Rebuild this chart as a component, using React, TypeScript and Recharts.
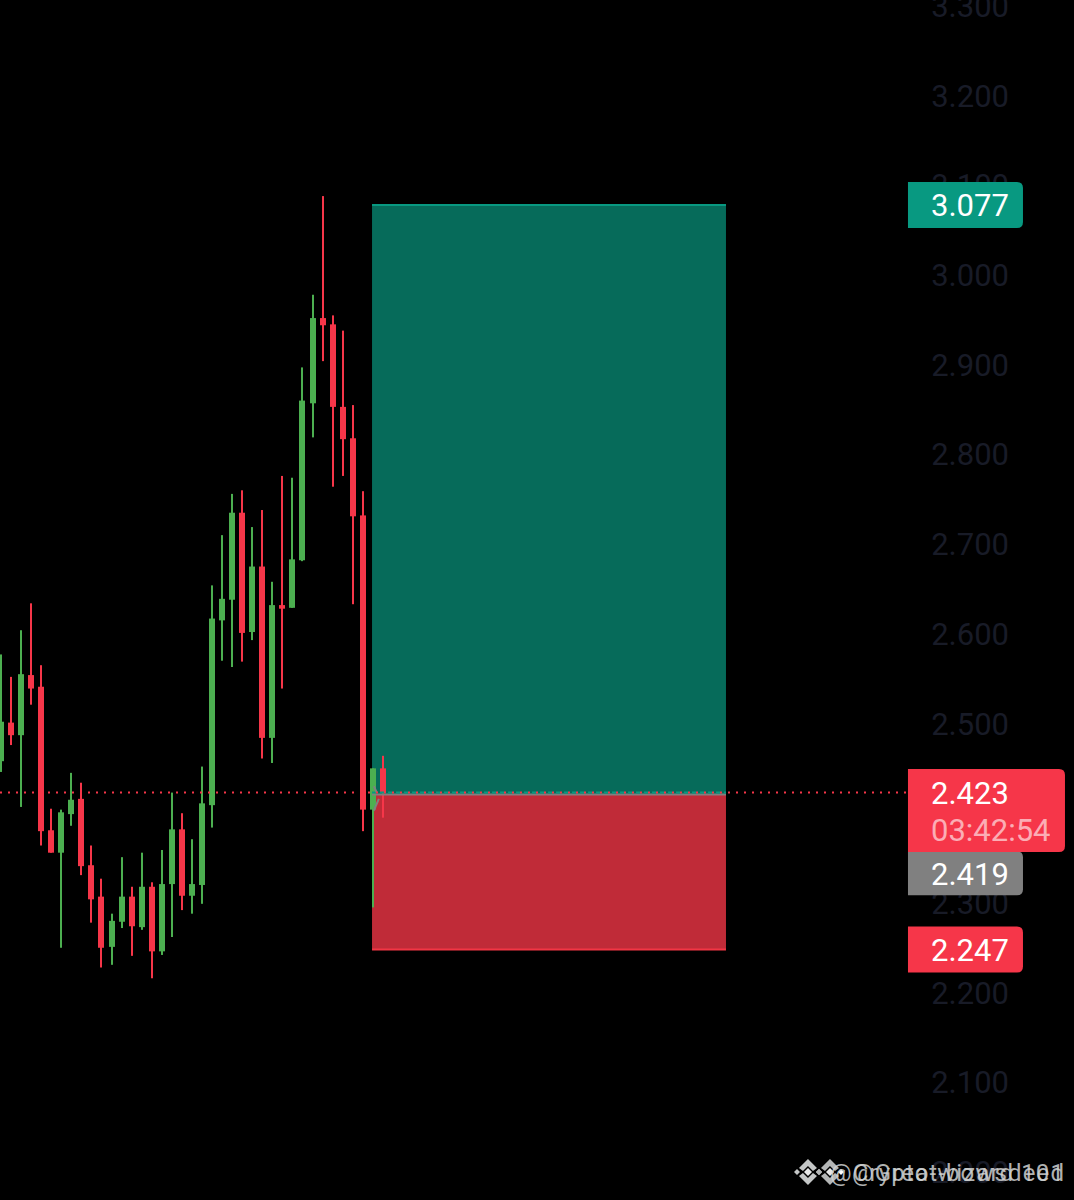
import { Bar, ComposedChart, ReferenceArea, ReferenceDot, ReferenceLine, XAxis, YAxis } from 'recharts';

const opens = [2.458, 2.501, 2.487, 2.554, 2.541, 2.381, 2.356, 2.399, 2.416, 2.342, 2.307, 2.251, 2.279, 2.307, 2.273, 2.318, 2.246, 2.321, 2.382, 2.308, 2.32, 2.409, 2.615, 2.638, 2.735, 2.602, 2.675, 2.484, 2.632, 2.629, 2.682, 2.857, 2.952, 2.945, 2.853, 2.818, 2.732, 2.404, 2.45];
const closes = [2.502, 2.487, 2.555, 2.539, 2.38, 2.356, 2.401, 2.415, 2.341, 2.304, 2.25, 2.28, 2.307, 2.274, 2.318, 2.246, 2.321, 2.382, 2.308, 2.321, 2.411, 2.617, 2.639, 2.735, 2.601, 2.675, 2.484, 2.632, 2.628, 2.683, 2.86, 2.952, 2.944, 2.853, 2.817, 2.731, 2.404, 2.45, 2.423];
const highs = [2.577, 2.552, 2.604, 2.634, 2.565, 2.405, 2.404, 2.445, 2.434, 2.364, 2.327, 2.288, 2.351, 2.318, 2.356, 2.323, 2.359, 2.423, 2.4, 2.371, 2.452, 2.654, 2.71, 2.756, 2.76, 2.719, 2.738, 2.658, 2.776, 2.774, 2.897, 2.978, 3.088, 2.955, 2.938, 2.855, 2.759, 2.45, 2.464];
const lows = [2.446, 2.476, 2.407, 2.521, 2.364, 2.356, 2.25, 2.386, 2.331, 2.278, 2.228, 2.231, 2.272, 2.241, 2.27, 2.216, 2.242, 2.262, 2.292, 2.288, 2.299, 2.384, 2.57, 2.563, 2.569, 2.593, 2.461, 2.456, 2.539, 2.629, 2.681, 2.819, 2.904, 2.764, 2.776, 2.633, 2.38, 2.295, 2.395];
const priceTicks = [2.0, 2.1, 2.2, 2.3, 2.4, 2.5, 2.6, 2.7, 2.8, 2.9, 3.0, 3.1, 3.2, 3.3];

const lastPrice = 2.423;
const entryPrice = 2.419;
const targetPrice = 3.077;
const stopPrice = 2.247;
const countdown = '03:42:54';

const UP = '#4caf50';
const DOWN = '#f63649';
const FONT = 'Roboto, sans-serif';
const NUDGE = 0.001; // box edges sit about a pixel above their price in the screenshot
const BOX_LEFT = 36.92;
const BOX_RIGHT = 72.14;
const AXIS_LEFT = -0.0995;
const AXIS_RIGHT = 106.77;
const PRICE_DOMAIN = [1.9688, 3.3066];
const TAG_X = 90.25;

const candles = opens.map((open, i) => ({
  i,
  open,
  close: closes[i],
  high: highs[i],
  low: lows[i],
  range: [lows[i], highs[i]],
}));

function Candle(props: any) {
  const { x, y, width, height, payload } = props;
  const cx = Math.round(x + width / 2);
  const color = payload.close >= payload.open ? UP : DOWN;
  const perUnit = height / (payload.high - payload.low);
  const top = y + (payload.high - Math.max(payload.open, payload.close)) * perUnit;
  const bodyH = Math.abs(payload.open - payload.close) * perUnit;
  return (
    <g>
      <rect x={cx - 1} y={y} width={2} height={height} fill={color} />
      <rect x={cx - 3} y={top} width={6} height={Math.max(bodyH, 1)} fill={color} />
    </g>
  );
}

function tagPath(x: number, y: number, w: number, h: number, r: number) {
  return `M${x},${y}H${x + w - r}Q${x + w},${y} ${x + w},${y + r}V${y + h - r}Q${x + w},${y + h} ${x + w - r},${y + h}H${x}Z`;
}

function PriceTag({ cx, cy, label, fill, shift = 0 }: any) {
  const mid = cy + shift;
  return (
    <g>
      <path d={tagPath(cx, mid - 23, 115, shift > 0 ? 44 : 46, 6)} fill={fill} />
      <text x={cx + 23} y={mid + 11} fontSize={31} fontFamily={FONT} fill="#fff">{label}</text>
    </g>
  );
}

function LastPriceTag({ cx, cy }: any) {
  return (
    <g>
      <path d={tagPath(cx, cy - 23.5, 157, 83, 6)} fill={DOWN} />
      <text x={cx + 23} y={cy + 11} fontSize={31} fontFamily={FONT} fill="#fff">{lastPrice.toFixed(3)}</text>
      <text x={cx + 23} y={cy + 48} fontSize={31} fontFamily={FONT} fill="#fff" fillOpacity={0.6}>{countdown}</text>
    </g>
  );
}

function Diamond({ x, y, r, fill }: any) {
  return <path d={`M${x},${y - r}L${x + r},${y}L${x},${y + r}L${x - r},${y}Z`} fill={fill} />;
}

function Logo({ cx, cy, fill }: any) {
  return (
    <g>
      <Diamond x={cx - 11} y={cy} r={3} fill={fill} />
      <Diamond x={cx} y={cy} r={4} fill="#e8e8e8" />
      <Diamond x={cx + 11} y={cy} r={3} fill="#fff" />
      <path d={`M${cx - 9},${cy - 4}L${cx},${cy - 13}L${cx + 9},${cy - 4}L${cx + 5},${cy - 1}L${cx},${cy - 6}L${cx - 5},${cy - 1}Z`} fill={fill} />
      <path d={`M${cx - 9},${cy + 4}L${cx},${cy + 13}L${cx + 9},${cy + 4}L${cx + 5},${cy + 1}L${cx},${cy + 6}L${cx - 5},${cy + 1}Z`} fill={fill} />
    </g>
  );
}

function Watermark({ cx, cy }: any) {
  const style = { fontSize: 24, fontFamily: FONT, fill: '#d0d2d2' };
  return (
    <g>
      <Logo cx={cx} cy={cy} fill="#c4c6c6" />
      <Logo cx={cx + 22} cy={cy} fill="#b4b6b6" />
      <text x={cx + 22} y={cy + 9} {...style} fillOpacity={0.85} textLength={234}>@Crypto-wizard 101</text>
      <text x={cx + 44} y={cy + 9} {...style} fillOpacity={0.85} textLength={212}>@Great-bowsdeed</text>
    </g>
  );
}

const chartProps = {
  width: 1074,
  height: 1200,
  data: candles,
  margin: { top: 0, right: 0, bottom: 0, left: 0 },
};

export default function App() {
  return (
    <div style={{ position: 'absolute', left: 0, top: 0, width: 1074, height: 1200, background: '#000', overflow: 'hidden' }}>
      <ComposedChart {...chartProps}>
        <XAxis dataKey="i" type="number" domain={[AXIS_LEFT, AXIS_RIGHT]} allowDataOverflow hide />
        <YAxis
          orientation="right"
          mirror
          width={1}
          domain={PRICE_DOMAIN}
          allowDataOverflow
          ticks={priceTicks}
          interval={0}
          tickFormatter={(v: number) => v.toFixed(3)}
          tick={{ fill: '#181b27', fontSize: 31, fontFamily: FONT, textAnchor: 'end' }}
          tickSize={0}
          tickMargin={65}
          axisLine={false}
          tickLine={false}
        />
        <ReferenceArea x1={BOX_LEFT} x2={BOX_RIGHT} y1={entryPrice + 0.002} y2={targetPrice + NUDGE} fill="#066b5a" fillOpacity={1} stroke="none" />
        <ReferenceArea x1={BOX_LEFT} x2={BOX_RIGHT} y1={stopPrice + NUDGE} y2={entryPrice + 0.002} fill="#c02b38" fillOpacity={1} stroke="none" />
        <ReferenceLine segment={[{ x: BOX_LEFT, y: targetPrice + NUDGE }, { x: BOX_RIGHT, y: targetPrice + NUDGE }]} stroke="#089981" strokeWidth={2} />
        <ReferenceLine segment={[{ x: BOX_LEFT, y: stopPrice + NUDGE }, { x: BOX_RIGHT, y: stopPrice + NUDGE }]} stroke="#f23645" strokeWidth={2} />
        <ReferenceLine segment={[{ x: BOX_LEFT, y: entryPrice + 0.002 }, { x: BOX_RIGHT, y: entryPrice + 0.002 }]} stroke="#808080" strokeWidth={2} />
        <ReferenceLine segment={[{ x: BOX_LEFT, y: lastPrice }, { x: BOX_RIGHT, y: lastPrice }]} stroke="#089981" strokeWidth={2} strokeDasharray="4 4" />
        <ReferenceLine segment={[{ x: 37.1, y: 2.43 }, { x: 37.4, y: 2.423 }]} stroke="#808080" strokeWidth={2} />
        <ReferenceLine segment={[{ x: 37.6, y: 2.416 }, { x: 37.1, y: 2.403 }]} stroke="#808080" strokeWidth={2} />
        <Bar dataKey="range" barSize={6} shape={Candle} isAnimationActive={false} />
        <ReferenceLine stroke={DOWN} strokeWidth={2} strokeDasharray="2 6" segment={[{ x: AXIS_LEFT, y: lastPrice }, { x: TAG_X, y: lastPrice }]} />
      </ComposedChart>
      {/* price tags and watermark sit over the axis labels, so they get their own layer */}
      <div style={{ position: 'absolute', left: 0, top: 0 }}>
        <ComposedChart {...chartProps}>
          <XAxis dataKey="i" type="number" domain={[AXIS_LEFT, AXIS_RIGHT]} allowDataOverflow hide />
          <YAxis domain={PRICE_DOMAIN} allowDataOverflow hide />
          <ReferenceDot x={TAG_X} y={targetPrice + NUDGE} shape={(p: any) => <PriceTag {...p} label={targetPrice.toFixed(3)} fill="#089981" />} />
          <ReferenceDot x={TAG_X} y={stopPrice + NUDGE} shape={(p: any) => <PriceTag {...p} label={stopPrice.toFixed(3)} fill={DOWN} />} />
          <ReferenceDot x={TAG_X} y={entryPrice} shape={(p: any) => <PriceTag {...p} label={entryPrice.toFixed(3)} fill="#808080" shift={78} />} />
          <ReferenceDot x={TAG_X} y={lastPrice} shape={(p: any) => <LastPriceTag {...p} />} />
          <ReferenceDot x={80.3} y={2.0} shape={(p: any) => <Watermark {...p} />} />
        </ComposedChart>
      </div>
    </div>
  );
}
